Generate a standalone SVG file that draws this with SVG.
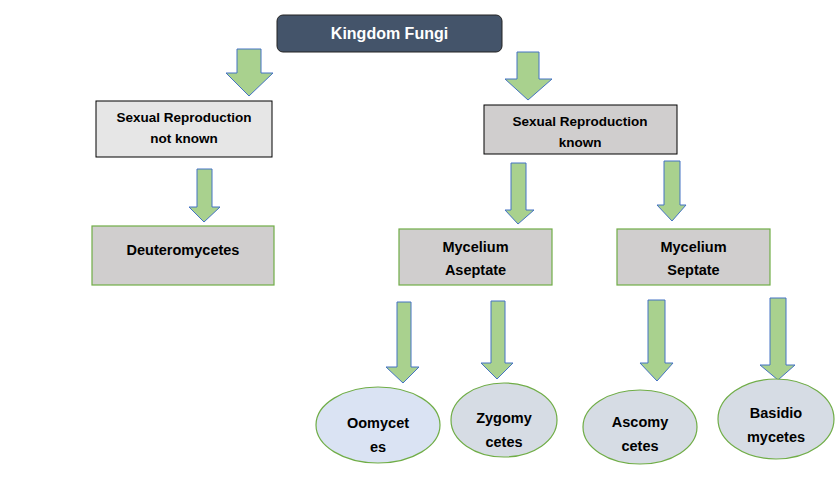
<svg xmlns="http://www.w3.org/2000/svg" width="839" height="485" viewBox="0 0 839 485">
<style>
text{font-family:"Liberation Sans",Arial,sans-serif;font-weight:bold;font-size:13.5px;fill:#000;text-anchor:middle}
.arr{fill:#a9d18e;stroke:#4472c4;stroke-width:1}
.gb{fill:#d0cece;stroke:#70ad47;stroke-width:1.2}
.el{stroke:#70ad47;stroke-width:1.2}
</style>
<rect width="839" height="485" fill="#fff"/>
<g id="connectors">
<polygon class="arr" points="237,49 261,49 261,73 273,73 249,96 226,73 237,73"/>
<polygon class="arr" points="517,52 539,52 539,79 552,79 528,100 505,79 517,79"/>
<polygon class="arr" points="197,169 212,169 212,207 220,207 204,222 189,207 197,207"/>
<polygon class="arr" points="511,163 526,163 526,210 534,210 518,224 505,210 511,210"/>
<polygon class="arr" points="664,161 680,161 680,205 686,205 672,221 657,205 664,205"/>
<polygon class="arr" points="397,302 411,302 411,367 419,367 403,383 386,367 397,367"/>
<polygon class="arr" points="491,301 505,301 505,363 513,363 497,379 481,363 491,363"/>
<polygon class="arr" points="648,300 665,300 665,363 673,363 657,381 640,363 648,363"/>
<polygon class="arr" points="770,298 786,298 786,365 795,365 778,380 760,365 770,365"/>
</g>
<g id="kingdom"><rect x="277" y="15" width="225" height="37" rx="6" fill="#44546a" stroke="#222"/><text x="389.5" y="39" style="fill:#fff;font-size:16px">Kingdom Fungi</text></g>
<g id="notknown"><rect x="96" y="101" width="176" height="56" fill="#e6e6e6" stroke="#000"/><text x="184" y="122">Sexual Reproduction</text><text x="184" y="143">not known</text></g>
<g id="known"><rect x="484" y="105" width="193" height="49" fill="#d0cece" stroke="#000"/><text x="580" y="126">Sexual Reproduction</text><text x="580" y="147">known</text></g>
<g id="deutero"><rect class="gb" x="92" y="226" width="182" height="59"/><text x="183" y="255" style="font-size:14.5px">Deuteromycetes</text></g>
<g id="aseptate"><rect class="gb" x="399" y="229" width="153" height="56"/><text x="475.5" y="252" style="font-size:14.5px">Mycelium</text><text x="475.5" y="275" style="font-size:14.5px">Aseptate</text></g>
<g id="septate"><rect class="gb" x="617" y="229" width="153" height="56"/><text x="693.5" y="252" style="font-size:14.5px">Mycelium</text><text x="693.5" y="275" style="font-size:14.5px">Septate</text></g>
<g id="oomy"><ellipse class="el" cx="378" cy="425" rx="62" ry="38" fill="#dae3f3"/><text x="378" y="428" style="font-size:14.5px">Oomycet</text><text x="378" y="452" style="font-size:14.5px">es</text></g>
<g id="zygo"><ellipse class="el" cx="504" cy="420" rx="53" ry="37" fill="#d6dce4"/><text x="504" y="423" style="font-size:14.5px">Zygomy</text><text x="504" y="447" style="font-size:14.5px">cetes</text></g>
<g id="asco"><ellipse class="el" cx="640" cy="427" rx="57" ry="37" fill="#d6dce4"/><text x="640" y="427" style="font-size:14.5px">Ascomy</text><text x="640" y="451" style="font-size:14.5px">cetes</text></g>
<g id="basidio"><ellipse class="el" cx="776" cy="419" rx="58" ry="40" fill="#d6dce4"/><text x="776" y="418" style="font-size:14.5px">Basidio</text><text x="776" y="442" style="font-size:14.5px">mycetes</text></g>
</svg>
